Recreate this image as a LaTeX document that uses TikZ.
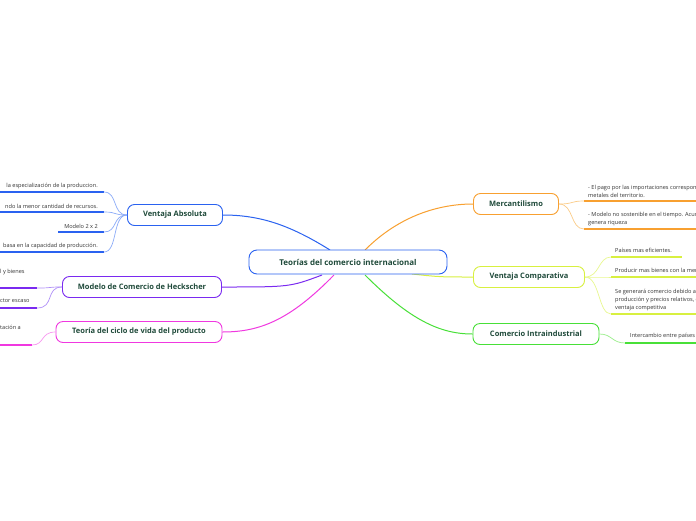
\documentclass[tikz,border=0pt]{standalone}
\usepackage{fontspec}
\setmainfont{Open Sans}
\begin{document}
\begin{tikzpicture}[x=1pt,y=-1pt,
 box/.style={draw=#1,line width=0.9pt,rounded corners=7pt,fill=white,text=boxtxt,font=\bfseries\fontsize{7.5}{9}\selectfont,minimum height=21pt,inner xsep=6pt},
 leaf/.style={font=\fontsize{5.6}{8}\selectfont,text=black!80,inner sep=0pt,align=left},
 con/.style={line width=0.7pt,draw=#1},
 ul/.style={line width=1.6pt,draw=#1}]
\definecolor{boxtxt}{HTML}{1F4A3A}
\definecolor{cb}{HTML}{2A62F0}\definecolor{co}{HTML}{F8A030}\definecolor{cy}{HTML}{D8F040}
\definecolor{cg}{HTML}{48E038}\definecolor{cp}{HTML}{7A2AF0}\definecolor{cm}{HTML}{F038E0}
\definecolor{cbl}{HTML}{8AAAF8}\definecolor{col}{HTML}{FBCC88}\definecolor{cyl}{HTML}{E8F890}
\definecolor{cgl}{HTML}{98EE88}\definecolor{cpl}{HTML}{B090F8}\definecolor{cml}{HTML}{F898F0}
\clip (0,0) rectangle (696,520);
\fill[white] (0,0) rectangle (696,520);
\coordinate (sb) at (330,250);\coordinate (so) at (365,250);\coordinate (sy) at (412,274);
\coordinate (sg) at (365,275);\coordinate (sp) at (322,275);\coordinate (sm) at (334,275);
\node[box=cb,minimum width=95pt] (va) at (175,215) {Ventaja Absoluta};
\node[box=cp,minimum width=159pt] (mh) at (142,287) {Modelo de Comercio de Heckscher};
\node[box=cm,minimum width=166pt] (tc) at (139,332) {Teoría del ciclo de vida del producto};
\node[box=co,minimum width=85pt] (me) at (516,204) {Mercantilismo};
\node[box=cy,minimum width=111pt] (vc) at (529,277) {Ventaja Comparativa};
\node[box=cg,minimum width=126pt] (ci) at (536,334) {Comercio Intraindustrial};
\draw[con=cb,line width=1pt] (sb) .. controls (290,225) and (260,215) .. (va.east);
\draw[con=co,line width=1pt] (so) .. controls (400,215) and (440,204) .. (me.west);
\draw[con=cy,line width=1pt] (sy) .. controls (440,277) .. (vc.west);
\draw[con=cg,line width=1pt] (sg) .. controls (410,320) and (440,334) .. (ci.west);
\draw[con=cp,line width=1pt] (sp) .. controls (290,287) .. (mh.east);
\draw[con=cm,line width=1pt] (sm) .. controls (290,320) and (260,332) .. (tc.east);
\node[draw=cb,line width=0.9pt,rounded corners=8pt,fill=white,text=boxtxt,font=\bfseries\fontsize{8}{10}\selectfont,minimum width=198pt,minimum height=24pt] (c) at (348,262) {Teorías del comercio internacional};
\foreach \n/\y/\xa in {a1/192/0,a2/212/0,a3/232/58,a4/252/0}{
 \coordinate (\n e) at (104,\y);\coordinate (\n s) at (\xa,\y);
 \draw[ul=cb] (\n s) -- (\n e);
 \draw[con=cbl] (\n e) .. controls (118,\y) and (112,215) .. (va.west);}
\node[leaf,anchor=south east] (t1) at (98,189) {la especialización de la produccion.};
\node[leaf,anchor=south east] (t2) at (98,209) {ndo la menor cantidad de recursos.};
\node[leaf,anchor=south east] (t3) at (98,229) {Modelo 2 x 2};
\node[leaf,anchor=south east] (t4) at (98,249) {basa en la capacidad de producción.};
\foreach \n/\y in {h1/288,h2/308}{
 \coordinate (\n e) at (37,\y);\coordinate (\n s) at (0,\y);
 \draw[ul=cp] (\n s) -- (\n e);
 \draw[con=cpl] (\n e) .. controls (55,\y) and (45,287) .. (mh.west);}
\node[leaf,anchor=west] (t5) at (0,272) {l y bienes};
\node[leaf,anchor=west] (t6) at (0,301) {ctor escaso};
\coordinate (m1e) at (32,345);\coordinate (m1s) at (0,345);
\draw[ul=cm] (m1s) -- (m1e);
\draw[con=cml] (m1e) .. controls (45,345) and (40,332) .. (tc.west);
\node[leaf,anchor=west] (t7) at (0,327) {tación a};
\foreach \n/\y in {o1/201,o2/229}{
 \coordinate (\n s) at (584,\y);\coordinate (\n e) at (696,\y);
 \draw[ul=co] (\n s) -- (\n e);
 \draw[con=col] (me.east) .. controls (574,204) and (570,\y) .. (\n s);}
\node[leaf,anchor=south west] (t8) at (588,198) {- El pago por las importaciones correspondía a los\\metales del territorio.};
\node[leaf,anchor=south west] (t9) at (588,226) {- Modelo no sostenible en el tiempo. Acumular\\genera riqueza};
\foreach \n/\y/\xe in {y1/257/682,y2/277/696,y3/314/696}{
 \coordinate (\n s) at (611,\y);\coordinate (\n e) at (\xe,\y);
 \draw[ul=cy] (\n s) -- (\n e);
 \draw[con=cyl] (vc.east) .. controls (600,277) and (598,\y) .. (\n s);}
\node[leaf,anchor=south west] (t10) at (615,253) {Países mas eficientes.};
\node[leaf,anchor=south west] (t11) at (615,273) {Producir mas bienes con la menor cantidad};
\node[leaf,anchor=south west] (t12) at (615,311) {Se generará comercio debido a diferencias en\\producción y precios relativos, creando\\ventaja competitiva};
\coordinate (g1s) at (625,343);\coordinate (g1e) at (696,343);
\draw[ul=cg] (g1s) -- (g1e);
\draw[con=cgl] (ci.east) .. controls (612,334) and (612,343) .. (g1s);
\node[leaf,anchor=south west] (t13) at (630,339) {Intercambio entre países};
\end{tikzpicture}
\end{document}
